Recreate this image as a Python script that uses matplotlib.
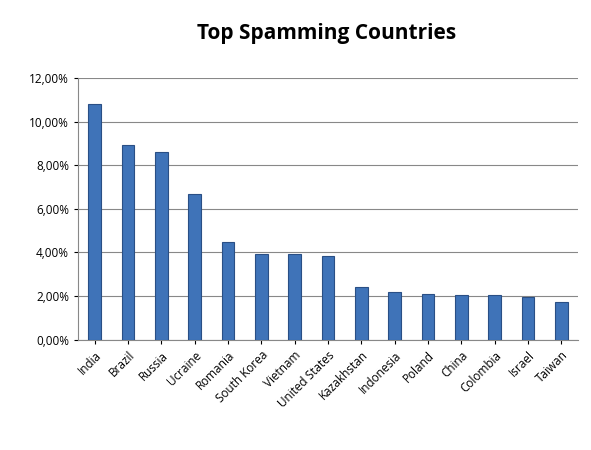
import matplotlib
matplotlib.use("Agg")
import matplotlib.pyplot as plt
from matplotlib.ticker import FuncFormatter

countries = ['India', 'Brazil', 'Russia', 'Ucraine', 'Romania', 'South Korea', 'Vietnam',
             'United States', 'Kazakhstan', 'Indonesia', 'Poland', 'China', 'Colombia',
             'Israel', 'Taiwan']
shares = [10.78, 8.92, 8.62, 6.66, 4.46, 3.92, 3.92, 3.82, 2.40, 2.18, 2.08, 2.03, 2.03, 1.95, 1.72]

plt.rcParams['font.family'] = ['Open Sans', 'DejaVu Sans']

fig = plt.figure(figsize=(5.91, 4.5), dpi=100)
ax = fig.add_axes([0.132, 0.245, 0.846, 0.582])

ax.bar(range(len(countries)), shares, width=0.38, color='#3f73b8', edgecolor='#2a4f85', linewidth=0.8, zorder=3)
ax.set_ylim(0, 12)
ax.set_xlim(-0.5, len(countries) - 0.5)
ax.set_yticks(range(0, 13, 2))
ax.yaxis.set_major_formatter(FuncFormatter(lambda v, p: ('%.2f%%' % v).replace('.', ',')))
ax.yaxis.grid(True, color='#888888', linewidth=0.8, zorder=0)
ax.set_xticks(range(len(countries)))
ax.set_xticklabels(countries, rotation=45, ha='right', rotation_mode='anchor')
ax.tick_params(axis='both', labelsize=8.5, length=3)
for s in ['top', 'right']:
    ax.spines[s].set_visible(False)
ax.spines['left'].set_color('#888888')
ax.spines['bottom'].set_color('#888888')

fig.suptitle('Top Spamming Countries', x=0.553, y=0.95, fontsize=15, fontweight='bold')
fig.savefig('out.png', dpi=100)
